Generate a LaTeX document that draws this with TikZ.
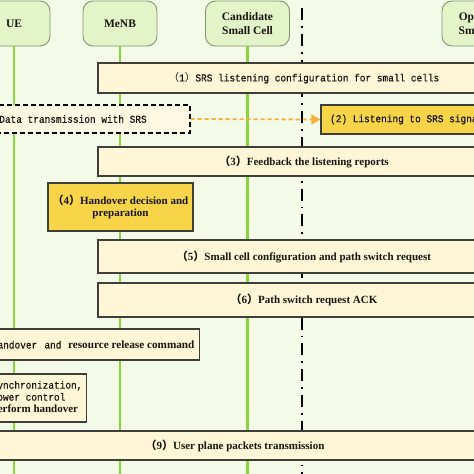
\documentclass[tikz,border=0pt]{standalone}
\usepackage{fontspec}
\setmainfont{Liberation Serif}
\newfontfamily\monof[FakeStretch=0.9,FakeBold=0.4]{Liberation Mono}
\newfontfamily\cjkf{Noto Sans CJK SC}
\usetikzlibrary{arrows.meta}
\newcommand{\fwlp}{{\cjkf （}}
\newcommand{\fwrp}{{\cjkf ）}}
\definecolor{bg}{RGB}{243,250,232}
\definecolor{cream}{RGB}{254,246,214}
\definecolor{lightcream}{RGB}{255,249,228}
\definecolor{boxline}{RGB}{62,62,58}
\definecolor{yel}{RGB}{248,212,72}
\definecolor{life}{RGB}{140,212,60}
\definecolor{headfill}{RGB}{226,244,200}
\definecolor{headline}{RGB}{128,148,112}
\definecolor{txt}{RGB}{22,22,18}
\definecolor{orng}{RGB}{244,176,60}
\tikzset{
  serifb/.style={font=\fontsize{11}{12.5}\selectfont\bfseries},
  monot/.style={font=\fontsize{10.5}{12.5}\selectfont\monof},
  msg/.style={draw=boxline, line width=1.2pt, fill=cream, text=txt, inner sep=0pt},
  yelbox/.style={msg, fill=yel},
  head/.style={draw=headline, line width=0.9pt, fill=headfill, rounded corners=10pt,
    minimum height=45pt, text=txt, align=center,
    font=\fontsize{11.5}{14}\selectfont\bfseries},
  lifeln/.style={draw=life, line width=2.6pt},
  dashdotln/.style={draw=black, line width=1.6pt, dash pattern=on 12pt off 6pt on 1.8pt off 6pt},
  arr/.style={draw=orng, line width=1.8pt, dash pattern=on 4pt off 3pt,
    -{Triangle[length=9pt,width=10pt,fill=orng]}}
}
\begin{document}
\begin{tikzpicture}[x=1pt,y=-1pt]
\useasboundingbox (0,0) rectangle (474,474);
\clip (0,0) rectangle (474,474);
\fill[bg] (0,0) rectangle (474,474);

% headers
\node[head, minimum width=72pt] (ue) at (14,23.5) {UE};
\node[head, minimum width=74pt] (menb) at (120,23.5) {MeNB};
\node[head, minimum width=84pt] (cand) at (247.5,23.5) {Candidate\\Small Cell};
\node[head, minimum width=84pt] (op) at (484,23.5) {Operating\\Small Cell};

% lifelines
\coordinate (ueb) at (14,480);
\coordinate (menbb) at (120,480);
\coordinate (candb) at (247.5,480);
\coordinate (opb) at (484,480);
\coordinate (ddt) at (302,8);
\coordinate (ddb) at (302,480);
\draw[lifeln] (ue.south) -- (ueb);
\draw[lifeln] (menb.south) -- (menbb);
\draw[lifeln] (cand.south) -- (candb);
\draw[lifeln] (op.south) -- (opb);
\draw[dashdotln] (ddt) -- (ddb);

% messages
\node[msg, monot, minimum width=412pt, minimum height=30pt] (m1) at (304,78)
  {\fwlp 1\fwrp SRS listening configuration for small cells};
\node[msg, fill=lightcream, draw=black, dash pattern=on 5pt off 3pt, monot,
  minimum width=234pt, minimum height=28pt] (dbox) at (73,119)
  {Data transmission with SRS};
\node[yelbox, monot, minimum width=177pt, minimum height=29pt] (m2) at (409.5,119.5)
  {(2) Listening to SRS signals};
\node[msg, serifb, minimum width=412pt, minimum height=29pt] (m3) at (304,161.5)
  {\fwlp 3\fwrp Feedback the listening reports};
\node[yelbox, serifb, align=center, minimum width=145pt, minimum height=48pt] (m4) at (120.5,207)
  {\fwlp 4\fwrp Handover decision and\\preparation};
\node[msg, serifb, minimum width=412pt, minimum height=33pt] (m5) at (304,256.5)
  {\fwlp 5\fwrp Small cell configuration and path switch request};
\node[msg, serifb, minimum width=412pt, minimum height=34pt] (m6) at (304,300)
  {\fwlp 6\fwrp Path switch request ACK};
\node[msg, minimum height=31pt, inner xsep=5pt, anchor=east] (m7) at (200,344.5)
  {{\fontsize{10.5}{12.5}\selectfont\monof\fwlp 7\fwrp Handover\hspace{1.5pt} and\hspace{1pt} }{\fontsize{11.2}{12.5}\selectfont\bfseries resource release command}};
\node[msg, minimum height=48pt, inner xsep=4pt, align=left, anchor=east] (m8) at (87,398)
  {{\fontsize{10.5}{12.5}\selectfont\monof Synchronization,}\\
   {\fontsize{10.5}{12.5}\selectfont\monof power control}\\
   {\fontsize{11}{12.5}\selectfont\bfseries perform handover}};
\node[msg, serifb, minimum width=550pt, minimum height=29pt] (m9) at (235,445.5)
  {\fwlp 9\fwrp User plane packets transmission};

\draw[arr] (dbox.east) -- (m2.west);
\end{tikzpicture}
\end{document}
